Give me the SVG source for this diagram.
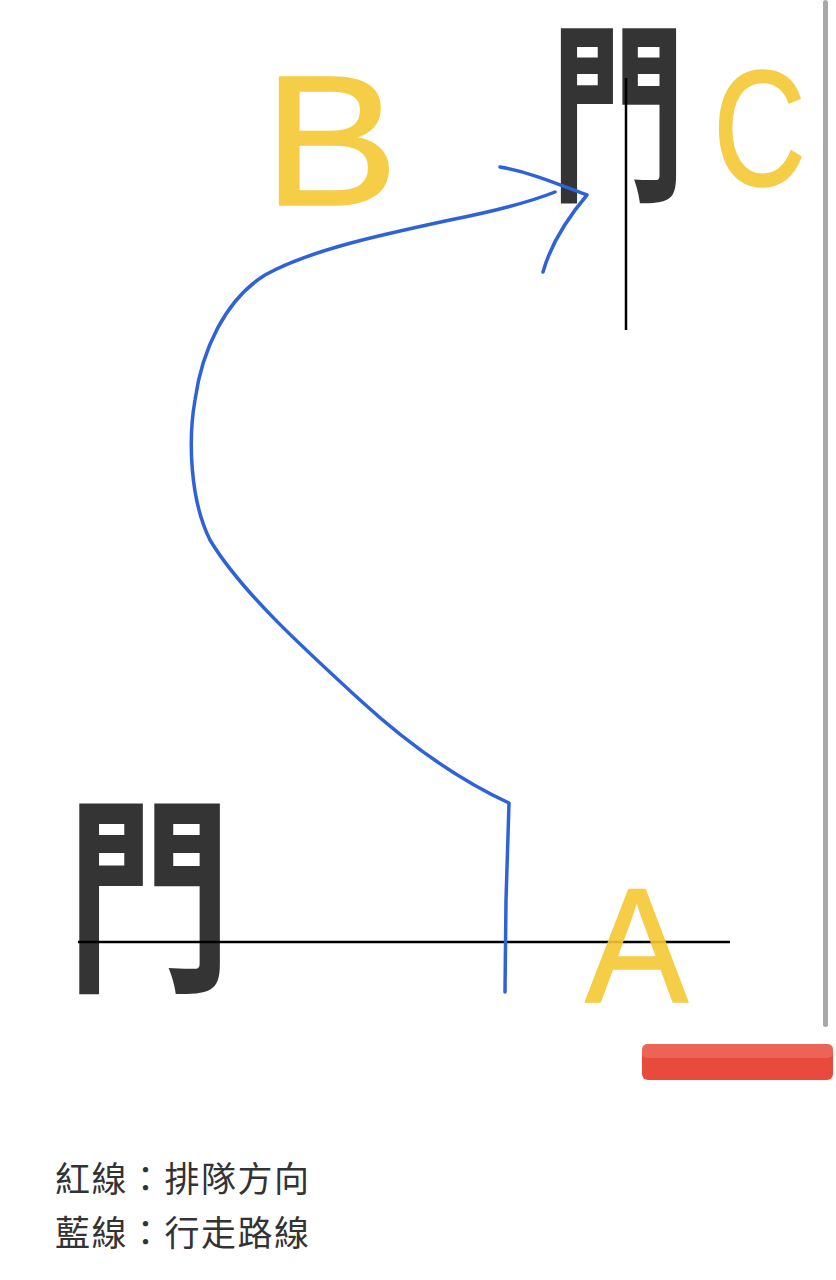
<svg xmlns="http://www.w3.org/2000/svg" width="836" height="1280" viewBox="0 0 836 1280">
<style>
.door{font-family:"Noto Sans CJK TC","Noto Sans CJK SC",sans-serif;font-weight:700;fill:#111;fill-opacity:0.85}
.letter{font-family:"Liberation Sans",Arial,sans-serif;fill:#f4c832;stroke:#f4c832;stroke-width:1.5;stroke-linejoin:round;opacity:0.9}
.ink{stroke:#000;stroke-width:2.5;fill:none}
.path{stroke:#2e63d8;stroke-width:3.5;fill:none;stroke-linecap:round;stroke-linejoin:round}
.legend{font-family:"Noto Sans CJK TC","Noto Sans CJK SC",sans-serif;font-size:35px;fill:#333;letter-spacing:1.5px}
</style>
<rect width="836" height="1280" fill="#fff"/>
<rect id="scrollbar" x="823" y="0" width="5" height="1027" rx="2.5" fill="#a8a8a8"/>
<g id="door-top">
<text class="door" font-size="136" transform="translate(550,186) scale(1,1.43)">門</text>
</g>
<g id="door-bottom">
<text class="door" font-size="166" transform="translate(66,975) scale(1,1.27)">門</text>
</g>
<g id="lines">
<line class="ink" x1="78" y1="942" x2="730" y2="942"/>
<line class="ink" x1="626" y1="78" x2="626" y2="330"/>
</g>
<g id="connectors">
<path class="path" d="M505,992 L506,900 L509,803 C470,785 420,755 360,700 C300,645 240,590 210,540 C190,500 188,440 195,400 C202,350 225,300 265,275 C310,250 380,235 450,220 C500,210 530,202 555,192"/>
<path class="path" d="M500,167 C530,172 560,185 587,195 C570,215 552,240 543,272"/>
</g>
<g id="label-B"><text class="letter" font-size="185" transform="translate(263,205) scale(1.1,1)">B</text></g>
<g id="label-C"><text class="letter" font-size="165" transform="translate(713,185) scale(0.78,1)">C</text></g>
<g id="label-A"><text class="letter" font-size="163" transform="translate(585,1002) scale(0.95,1)">A</text></g>
<g id="queue">
<rect x="642" y="1044" width="191" height="36" rx="6" fill="#e84b3b"/>
<rect x="642" y="1044" width="191" height="14" rx="5" fill="#ee6f62" opacity="0.7"/>
</g>
<g id="legend">
<text class="legend" x="55" y="1192">紅線：排隊方向</text>
<text class="legend" x="55" y="1246">藍線：行走路線</text>
</g>
</svg>
